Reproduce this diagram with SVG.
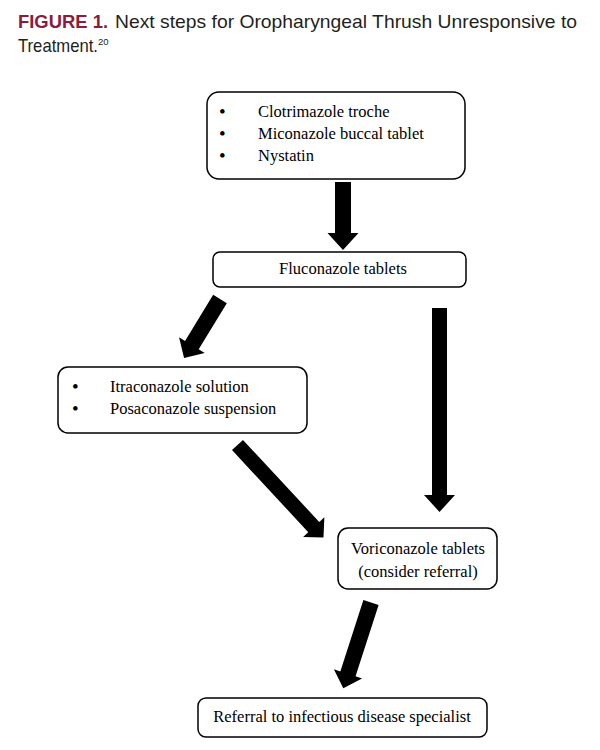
<svg xmlns="http://www.w3.org/2000/svg" width="600" height="750" viewBox="0 0 600 750">
<style>
.title{font-family:"Liberation Sans","Arial",sans-serif;font-size:18.5px;fill:#231f20}
.fig{font-weight:bold;fill:#8c1c3c}
.box{fill:#fff;stroke:#000;stroke-width:1.5}
.t{font-family:"Liberation Serif","Times New Roman",serif;font-size:16.5px;fill:#000}
.b{font-family:"Liberation Serif","Times New Roman",serif;font-size:19px;fill:#000}
.c{text-anchor:middle}
.arr{fill:#000}
</style>
<rect width="600" height="750" fill="#fff"/>
<g id="title">
<text class="title" x="18" y="28"><tspan class="fig" textLength="90" lengthAdjust="spacingAndGlyphs">FIGURE 1.</tspan><tspan x="115" textLength="462" lengthAdjust="spacingAndGlyphs">Next steps for Oropharyngeal Thrush Unresponsive to</tspan><tspan x="18" y="52" textLength="80" lengthAdjust="spacingAndGlyphs">Treatment.</tspan><tspan x="98" y="45" style="font-size:9.5px">20</tspan></text>
</g>
<g id="connectors">
<polygon class="arr" transform="translate(343,182)" points="-8,0 8,0 8,51 15.5,51 0,68 -15.5,51 -8,51"/>
<polygon class="arr" transform="translate(220,299) rotate(31.4)" points="-8,0 8,0 8,54 15,54 0,69 -15,54 -8,54"/>
<polygon class="arr" transform="translate(439.5,308) rotate(0)" points="-7.5,0 7.5,0 7.5,187 15.5,187 0,204 -15.5,187 -7.5,187"/>
<polygon class="arr" transform="translate(237.5,445) rotate(-42.9)" points="-7.5,0 7.5,0 7.5,112 14.5,112 0,126.3 -14.5,112 -7.5,112"/>
<polygon class="arr" transform="translate(371,602.5) rotate(17.9)" points="-8,0 8,0 8,75 14.8,75 0,90.2 -14.8,75 -8,75"/>
</g>
<g id="node1">
<rect class="box" x="207" y="92" width="258" height="87" rx="12"/>
<text class="b" x="219" y="118">•</text>
<text class="b" x="219" y="140">•</text>
<text class="b" x="219" y="162">•</text>
<text class="t" x="258" y="117">Clotrimazole troche</text>
<text class="t" x="258" y="139">Miconazole buccal tablet</text>
<text class="t" x="258" y="161">Nystatin</text>
</g>
<g id="node2">
<rect class="box" x="213" y="252" width="253" height="35" rx="7"/>
<text class="t c" x="343" y="274">Fluconazole tablets</text>
</g>
<g id="node3">
<rect class="box" x="58" y="367" width="249" height="66" rx="10"/>
<text class="b" x="72" y="393">•</text>
<text class="b" x="72" y="415">•</text>
<text class="t" x="110" y="392">Itraconazole solution</text>
<text class="t" x="110" y="414">Posaconazole suspension</text>
</g>
<g id="node4">
<rect class="box" x="338" y="528" width="159" height="61" rx="10"/>
<text class="t c" x="418" y="554">Voriconazole tablets</text>
<text class="t c" x="418" y="577">(consider referral)</text>
</g>
<g id="node5">
<rect class="box" x="198" y="698" width="289" height="39" rx="8"/>
<text class="t c" x="342" y="722">Referral to infectious disease specialist</text>
</g>
</svg>
